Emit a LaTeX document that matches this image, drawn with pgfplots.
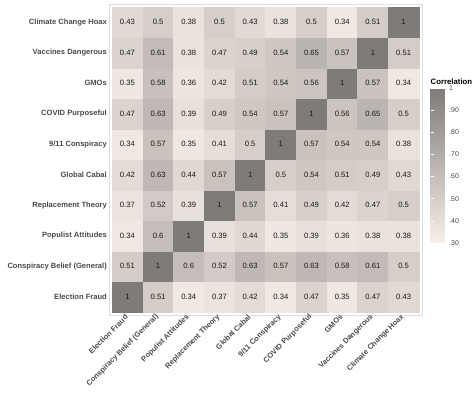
\documentclass[border=0pt]{standalone}
\usepackage{pgfplots}
\pgfplotsset{compat=1.18}
\usepackage{pgfplotstable}
\usepackage{fontspec}
\setmainfont{Liberation Sans}
\definecolor{lblgray}{HTML}{4A4A4A}
\pgfplotstableread{
x y c
0 0 1
1 0 0.51
2 0 0.34
3 0 0.37
4 0 0.42
5 0 0.34
6 0 0.47
7 0 0.35
8 0 0.47
9 0 0.43
0 1 0.51
1 1 1
2 1 0.6
3 1 0.52
4 1 0.63
5 1 0.57
6 1 0.63
7 1 0.58
8 1 0.61
9 1 0.5
0 2 0.34
1 2 0.6
2 2 1
3 2 0.39
4 2 0.44
5 2 0.35
6 2 0.39
7 2 0.36
8 2 0.38
9 2 0.38
0 3 0.37
1 3 0.52
2 3 0.39
3 3 1
4 3 0.57
5 3 0.41
6 3 0.49
7 3 0.42
8 3 0.47
9 3 0.5
0 4 0.42
1 4 0.63
2 4 0.44
3 4 0.57
4 4 1
5 4 0.5
6 4 0.54
7 4 0.51
8 4 0.49
9 4 0.43
0 5 0.34
1 5 0.57
2 5 0.35
3 5 0.41
4 5 0.5
5 5 1
6 5 0.57
7 5 0.54
8 5 0.54
9 5 0.38
0 6 0.47
1 6 0.63
2 6 0.39
3 6 0.49
4 6 0.54
5 6 0.57
6 6 1
7 6 0.56
8 6 0.65
9 6 0.5
0 7 0.35
1 7 0.58
2 7 0.36
3 7 0.42
4 7 0.51
5 7 0.54
6 7 0.56
7 7 1
8 7 0.57
9 7 0.34
0 8 0.47
1 8 0.61
2 8 0.38
3 8 0.47
4 8 0.49
5 8 0.54
6 8 0.65
7 8 0.57
8 8 1
9 8 0.51
0 9 0.43
1 9 0.5
2 9 0.38
3 9 0.5
4 9 0.43
5 9 0.38
6 9 0.5
7 9 0.34
8 9 0.51
9 9 1
}\corrtable
\begin{document}
\begin{tikzpicture}
\path[use as bounding box] (0,0) rectangle (474bp,397bp);
\begin{axis}[
  at={(109bp,82bp)}, anchor=south west,
  scale only axis, width=313bp, height=311bp,
  xmin=-0.6, xmax=9.6, ymin=-0.6, ymax=9.6,
  /pgf/number format/assume math mode=true,
  axis line style={draw=black!13, line width=0.8pt},
  xtick={0,...,9}, ytick={0,...,9},
  xticklabels={Election Fraud,Conspiracy Belief (General),Populist Attitudes,Replacement Theory,Global Cabal,9/11 Conspiracy,COVID Purposeful,GMOs,Vaccines Dangerous,Climate Change Hoax},
  yticklabels={Election Fraud,Conspiracy Belief (General),Populist Attitudes,Replacement Theory,Global Cabal,9/11 Conspiracy,COVID Purposeful,GMOs,Vaccines Dangerous,Climate Change Hoax},
  major tick length=0pt,
  xticklabel style={rotate=45, anchor=east, font=\fontsize{7.5}{9}\selectfont\bfseries, text=lblgray, inner sep=1pt},
  yticklabel style={font=\fontsize{7.6}{9}\selectfont\bfseries, text=lblgray, inner sep=2pt},
  colormap={corr}{rgb255=(248,239,233) rgb255=(127,123,121)},
  point meta min=0.3, point meta max=1,
  colorbar,
  colorbar style={
    scale only axis,
    at={(parent axis.north east)}, anchor=north west,
    xshift=0bp, yshift=-84bp,
    width=17bp, height=155bp,
    axis line style={draw=none},
    ytick={0.3,0.4,0.5,0.6,0.7,0.8,0.9,1},
    yticklabels={.30,.40,.50,.60,.70,.80,.90,1},
    yticklabel style={font=\fontsize{7}{8}\selectfont, text=lblgray, inner sep=1.5pt},
    ytick style={draw=white, line width=0.6pt},
    major tick length=3bp,
    tick align=inside,
    ytick pos=both, yticklabel pos=right,
    title={Correlation},
    title style={at={(0,1)}, anchor=south west, inner sep=0pt, yshift=-3bp, font=\fontsize{7.8}{9}\selectfont\bfseries},
  },
]
\addplot[matrix plot*, mesh/cols=10, point meta=explicit] table[x=x, y=y, meta=c] {\corrtable};
\addplot[only marks, mark=none, point meta=explicit,
  nodes near coords={\pgfmathprintnumber{\pgfplotspointmeta}},
  nodes near coords align={center},
  every node near coord/.append style={font=\fontsize{7.7}{9}\selectfont, text=black!90, anchor=center}]
  table[x=x, y=y, meta=c] {\corrtable};
\end{axis}
\end{tikzpicture}
\end{document}
